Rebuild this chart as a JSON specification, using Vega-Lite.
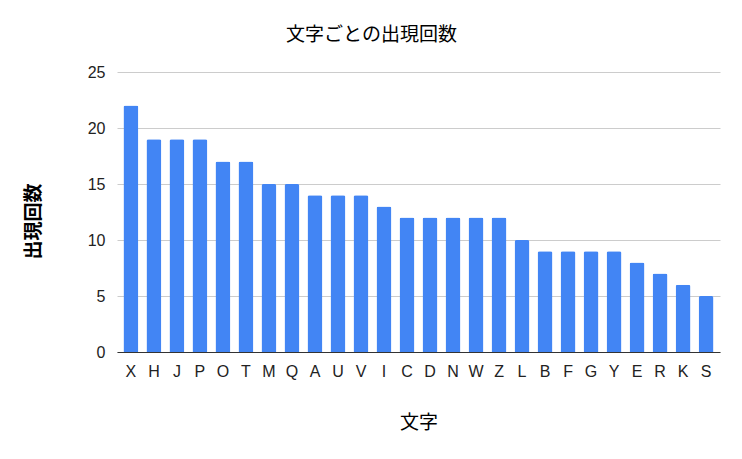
{
  "$schema": "https://vega.github.io/schema/vega-lite/v6.json",
  "width": 603,
  "height": 280,
  "autosize": "none",
  "padding": {"left": 117, "top": 72, "right": 22, "bottom": 107},
  "background": "white",
  "title": {
    "text": "文字ごとの出現回数",
    "font": "Liberation Sans, Noto Sans CJK JP",
    "fontSize": 19,
    "fontWeight": "normal",
    "color": "#000000",
    "anchor": "middle",
    "dx": -47,
    "offset": 19
  },
  "config": {
    "view": {"stroke": null},
    "font": "Liberation Sans, Noto Sans CJK JP"
  },
  "data": {
    "values": [
      {"letter": "X", "count": 22},
      {"letter": "H", "count": 19},
      {"letter": "J", "count": 19},
      {"letter": "P", "count": 19},
      {"letter": "O", "count": 17},
      {"letter": "T", "count": 17},
      {"letter": "M", "count": 15},
      {"letter": "Q", "count": 15},
      {"letter": "A", "count": 14},
      {"letter": "U", "count": 14},
      {"letter": "V", "count": 14},
      {"letter": "I", "count": 13},
      {"letter": "C", "count": 12},
      {"letter": "D", "count": 12},
      {"letter": "N", "count": 12},
      {"letter": "W", "count": 12},
      {"letter": "Z", "count": 12},
      {"letter": "L", "count": 10},
      {"letter": "B", "count": 9},
      {"letter": "F", "count": 9},
      {"letter": "G", "count": 9},
      {"letter": "Y", "count": 9},
      {"letter": "E", "count": 8},
      {"letter": "R", "count": 7},
      {"letter": "K", "count": 6},
      {"letter": "S", "count": 5}
    ]
  },
  "mark": {"type": "bar", "color": "#4285F4", "cornerRadiusTopLeft": 2, "cornerRadiusTopRight": 2},
  "encoding": {
    "x": {
      "field": "letter",
      "type": "nominal",
      "sort": null,
      "title": "文字",
      "scale": {"paddingInner": 0.35, "paddingOuter": 0.28},
      "axis": {
        "labelAngle": 0,
        "ticks": false,
        "domainColor": "#333333",
        "labelFontSize": 16,
        "labelColor": "#222222",
        "labelPadding": 11,
        "titleFontSize": 19,
        "titleFontWeight": "normal",
        "titleColor": "#000000",
        "titlePadding": 34
      }
    },
    "y": {
      "field": "count",
      "type": "quantitative",
      "title": "出現回数",
      "scale": {"domain": [0, 25]},
      "axis": {
        "values": [0, 5, 10, 15, 20, 25],
        "ticks": false,
        "domain": false,
        "gridColor": "#cccccc",
        "labelFontSize": 16,
        "labelColor": "#222222",
        "labelPadding": 12,
        "titleFontSize": 19,
        "titleFontWeight": "bold",
        "titleColor": "#000000",
        "titleX": -74,
        "titleY": 149
      }
    }
  }
}
